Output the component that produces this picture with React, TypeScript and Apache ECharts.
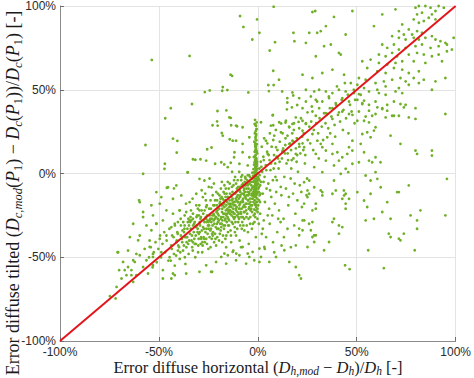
import React, { useEffect, useRef } from "react";
import * as echarts from "echarts";

const xTicks = [-100, -50, 0, 50, 100];
const identityLine = [[-100, -100], [100, 100]];

const lowerTail = [
  [-74.8,-73.2],[-71.9,-74.6],[-71.4,-67.7],[-70.1,-57.7],[-70.9,-47],[-68.9,-62.7],[-66.4,-60.7],[-65.6,-55.8],[-63.9,-57.7],[-63,-64.7],
  [-62.2,-52.8],[-61.4,-60.7],[-60.5,-39.9],[-60,-16],[-59.7,-48.8],[-58,-26],[-56.3,-51.8],[-55.5,-59.7],[-54.7,-43.8],[-53.8,-33.9],
  [-53,-49.8],[-51.3,-29.9],[-58,-0.2],[-35.4,0.8],[-29.5,-3.2],[-27,-4.2],[-45.4,-8.2],[-41.2,-7.1],[-51.3,-11.1],[-48.8,-14.1],
  [-42.9,-15.1],[-38.7,-13.1],[-31.1,-12.1],[-27.8,-14.1],[-59.7,-17.1],[-53.8,-19],[-49.6,-18],[-34.5,-17.1],[-31.1,-19],
  [-58,-23],[-53,-25],[-46.2,-22],[-42.9,-24],[-39.5,-22],[-36.2,-23],[-32.8,-24],[-29.5,-22],[-26.1,-20],
  [-63,-30],[-56.3,-31],[-51.3,-30],[-48,-28],[-43.7,-32],[-40.4,-29],[-37,-31],[-34.5,-28],[-29.5,-30],[-25.3,-28],
  [-64.7,-38],[-59.7,-37],[-54.7,-40],[-49.6,-39],[-46.2,-37],[-41.2,-41],[-36.2,-38],[-32.8,-41],[-28.6,-39],
  [-70.6,-47],[-65.6,-46],[-61.4,-48],[-57.2,-45],[-53,-48],[-48.8,-47],[-44.6,-50],[-40.4,-46],
  [-68.1,-52.8],[-63,-51.8],[-58,-55.8],[-53,-54.8],[-48,-57.7],[-42.9,-59.7],[-67.3,-57.7],[-63.9,-60.7]
];

const midBand = [
  [-44,-52],[-43.5,-45],[-42.6,-38],[-42,-55],[-41.3,-49],[-40.7,-35],[-40.2,-43],[-39.5,-51],[-39,-27],[-38.4,-39],
  [-37.8,-46],[-37.1,-33],[-36.6,-54],[-36,-41],[-35.4,-29],[-35,-48],[-34.3,-36],[-33.8,-22],[-33.2,-44],[-32.7,-31],
  [-32.1,-39],[-31.6,-50],[-31,-26],[-30.5,-35],[-30.1,-43],[-29.6,-19],[-29.2,-31],[-28.7,-38],[-28.1,-47],[-27.6,-24],
  [-27.2,-33],[-26.8,-41],[-26.3,-16],[-25.9,-29],[-25.4,-36],[-25,-45],[-24.6,-21],[-24.1,-27],[-23.7,-33],[-23.3,-39],
  [-22.8,-13],[-22.4,-24],[-22,-30],[-21.6,-36],[-21.1,-43],[-20.7,-19],[-20.3,-27],[-19.9,-33],
  [-38.9,-31],[-37.4,-43],[-35.7,-38],[-34.8,-31],[-33.5,-40],[-32.4,-35],[-31.3,-42],[-30.8,-31],[-29.9,-39],[-29,-27],
  [-28.3,-34],[-27.9,-43],[-27,-29],[-26.5,-35],[-26.1,-39],[-25.6,-25],[-25.2,-31],[-24.4,-38],[-24,-34],[-23.5,-29],
  [-23,-25],[-22.6,-35],[-22.1,-41],[-21.8,-27],[-21.3,-32],[-20.9,-23],[-20.5,-38],[-20.1,-29],
  [-42,-30],[-39.6,-22],[-37,-25],[-36.3,-18],[-33,-15],[-30.3,-21],[-28.4,-10],[-26.6,-12],[-24.8,-8],[-23.9,-16],[-22.2,-6],[-21,-11],
  [-39.2,-47],[-38.1,-34],[-36.9,-50],[-35.2,-42],[-34,-26],[-32.9,-46],[-31.9,-29],[-30.2,-47],[-29.4,-35],[-28.9,-42],
  [-27.4,-38],[-26.9,-22],[-25.7,-42],[-24.9,-29],[-23.9,-44],[-23.1,-36],[-22.3,-28],[-21.4,-39],[-20.6,-33],
  [-33.6,-28],[-31.4,-37],[-29.8,-25],[-28,-41],[-26.2,-27],[-24.3,-25],[-22.9,-31],[-21.9,-19],[-20.4,-22]
];

const bandExtra = [
  [-55,-50],[-54.1,-44],[-53.2,-56],[-52.6,-47],[-51.7,-41],[-51.1,-53],[-50.3,-45],[-49.4,-37],[-48.9,-50],[-48.2,-42],
  [-47.3,-35],[-46.8,-47],[-46.1,-40],[-45.2,-52],[-44.7,-33],[-43.8,-43],[-43.3,-37],[-42.4,-48],[-41.9,-31],[-41,-40],
  [-40.5,-36],[-39.8,-44],[-38.9,-37],[-38.2,-41],[-37.7,-29],[-36.8,-38],[-36.1,-44],[-35.6,-33],[-34.7,-40],[-34.2,-29],
  [-33.3,-37],[-32.8,-27],[-31.9,-42],[-31.2,-32],[-30.7,-25],[-29.8,-36],[-29.3,-29],[-28.4,-22],[-27.7,-32],[-27.2,-39],
  [-26.3,-26],[-25.8,-19],[-24.9,-33],[-24.2,-28],[-23.7,-21],[-22.8,-37],[-22.1,-25],[-21.6,-16],[-20.7,-30],[-20.2,-24],
  [-19.4,-13],[-18.7,-27],[-18,-21],[-17.3,-11],[-16.6,-24],[-15.9,-19],[-15.2,-14],[-14.5,-28],[-13.8,-18],[-13.1,-8],
  [-12.4,-21],[-11.7,-17],[-11,-6],[-10.3,-23],[-9.6,-15],[-8.9,-11],[-8.2,-21],[-7.5,-6],[-6.8,-13],[-6.1,-18],
  [-5.4,-4],[-4.7,-9],[-4,-15],[-3.3,-7],[-2.6,-13],[-1.9,-2],[-1.2,-9],[-0.5,-17],[0.2,-6],[0.9,-13],
  [-19.1,-17],[-18.3,-14],[-17.5,-26],[-16.9,-20],[-16.1,-16],[-15.5,-24],[-14.7,-18],[-14.1,-12],[-13.4,-20],[-12.7,-15],
  [-12.1,-24],[-11.4,-19],[-10.9,-11],[-10.2,-17],[-9.5,-21],[-8.8,-13],[-8.1,-7],[-7.4,-20],[-6.9,-9],[-6.3,-14],
  [-5.6,-18],[-5,-7],[-4.3,-12],[-3.7,-17],[-3,-9],[-2.4,-5],[-1.7,-14],[-1,-19],[-0.4,-11],[0.4,-3],
  [-17,-18],[-15,-22],[-13,-13],[-11,-22],[-9,-18],[-7,-10],[-5,-16],[-3,-12],[-1,-6],[-16.2,-9],
  [-14.2,-6],[-12,-4],[-10,-8],[-8.4,-4],[-6.4,-2],[-4.4,-1],[-2.8,0.5],[-18.2,-5],[-20.6,-16],[-22.5,-19],
  [-37.3,-35],[-35.1,-27],[-33.9,-33],[-32.2,-30],[-30.4,-33],[-28.8,-26],[-27.5,-28],[-26,-33],[-24.6,-31],[-23.2,-27],
  [-21.2,-26],[-19.7,-28],[-18.5,-32],[-17.8,-15],[-16.4,-27],[-15.8,-12],[-14.4,-22],[-13.2,-23],[-12.3,-17],[-11.5,-26],
  [-10.6,-14],[-9.8,-26],[-9.2,-10],[-8.5,-24],[-7.7,-16],[-7.1,-23],[-6.6,-7],[-5.8,-26],[-5.2,-11],[-4.6,-21],
  [-3.9,-5],[-3.5,-19],[-2.9,-23],[-2.2,-8],[-1.5,-24],[-0.8,-3],[-0.2,-21],[0.6,-8],[1.1,-17],[1.6,-5]
];

const core = [
  [-19.5,-21],[-19.2,-36],[-18.9,-15],[-18.6,-26],[-18.3,-30],[-18,-41],[-17.7,-19],[-17.4,-24],[-17.1,-33],[-16.8,-12],
  [-16.5,-28],[-16.2,-22],[-15.9,-37],[-15.6,-17],[-15.3,-26],[-15,-31],[-14.7,-9],[-14.4,-20],[-14.1,-24],[-13.8,-34],
  [-13.5,-14],[-13.2,-29],[-12.9,-18],[-12.6,-23],[-12.3,-7],[-12,-27],[-11.7,-32],[-11.4,-12],[-11.1,-21],[-10.8,-16],
  [-10.5,-25],[-10.2,-4],[-9.9,-29],[-9.6,-10],[-9.3,-19],[-9,-14],[-8.7,-23],[-8.4,-2],[-8.1,-33],[-7.8,-8],
  [-7.5,-17],[-7.2,-12],[-6.9,-27],[-6.6,-5],[-6.3,-20],[-6,-15],[-5.7,-9],[-5.4,-24],[-5.1,-1],[-4.8,-13],
  [-4.5,-18],[-4.2,-6],[-3.9,-30],[-3.6,-10],[-3.3,-21],[-3,-3],[-2.7,-15],[-2.4,-8],[-2.1,-25],[-1.8,-12],
  [-1.5,-18],[-1.2,-5],[-0.9,-22],[-0.6,-9],[-0.3,-15],[0,-2],
  [-19.8,-25],[-19,-30],[-18.4,-19],[-17.9,-28],[-17.2,-16],[-16.6,-31],[-16,-25],[-15.4,-21],[-14.9,-27],[-14.3,-16],
  [-13.9,-22],[-13.3,-25],[-12.8,-11],[-12.2,-19],[-11.8,-24],[-11.2,-15],[-10.7,-20],[-10.1,-13],[-9.7,-24],[-9.1,-8],
  [-8.6,-17],[-8,-12],[-7.6,-26],[-7,-19],[-6.5,-11],[-5.9,-22],[-5.3,-6],[-4.9,-16],[-4.4,-11],[-3.8,-26],
  [-3.4,-5],[-2.9,-19],[-2.3,-11],[-1.7,-29],[-1.1,-14],[-0.5,-7],[0.2,-19],[0.5,-11],[0.8,-4],[-1.4,-1],
  [-2.6,-3],[-4,-2],[-6.2,-3],[-7.9,-1],[-9.4,1],[-11.5,-2],[-13,1],[-15.2,-5],[-16.9,-7],[-18.7,-9],[-20.2,-12],
  [-16,-44],[-13.5,-41],[-11,-37],[-9.2,-40],[-7.3,-31],[-5,-35],[-3,-33],[-1,-38],[0.5,-30],[-12.4,-46],
  [-8.5,-44],[-4.6,-42],[2,-36],[1.2,-24],[3,-28],[-0.2,-27],
  [-19.6,-40],[-18.8,-34],[-17.6,-37],[-16.4,-39],[-15.1,-35],[-14.6,-31],[-13.6,-37],[-12.6,-30],[-11.6,-35],[-10.4,-33],
  [-9.5,-27],[-8.9,-31],[-7.9,-29],[-6.8,-34],[-5.6,-31],[-4.7,-27],[-3.7,-22],[-2.5,-30],[-1.3,-26],[-0.1,-23],
  [0.6,-16],[1.4,-12],[-19.3,-18],[-18.1,-23],[-17.3,-31],[-16.3,-14],[-15.7,-29],[-14.8,-23],[-14,-19],[-13.1,-16],
  [-12.4,-26],[-11.3,-29],[-10.6,-9],[-9.9,-17],[-9.2,-21],[-8.3,-26],[-7.4,-15],[-6.7,-23],[-6.1,-7],[-5.5,-13],
  [-4.3,-20],[-3.2,-13],[-2.2,-17],[-1.6,-9],[-0.8,-13],[0.3,-9],[0.9,-1]
];

const spike = [
  [-1.4,32],[-0.6,30.5],[-1.2,29],[-0.7,26.5],[-1.5,24],[-0.9,22.5],[-1.1,20.5],[-1.8,19],[-0.5,17.5],[-1.3,16],
  [-0.8,14.5],[-1.6,13],[-0.3,12],[-1.1,11],[-2,9.8],[-0.7,9],[-1.4,8],[-0.4,7],[-1,6],[-1.9,5.2],
  [-0.6,4.4],[-1.3,3.5],[-2.2,2.6],[-0.8,1.8],[-1.6,1],[-0.2,0.3],[-1.1,-0.6],[-2.4,-1.3],[-0.5,-2.2],[-1.7,-2.9],
  [-0.9,-3.8],[-2,-4.6],[-1.2,-5.5],[-0.4,-6.4],[-1.5,-7.3],[-2.6,-8.1],[-0.7,-9],[-1.9,-10],[-1.2,-11],[-0.3,-12],
  [-2.2,-13],[-1,-14],[-1.6,-16],[-0.6,-17],[-2.8,-15],[-1.4,-18.5],[-0.9,-20],[-1.8,-21.5],[-1.3,17.2],[-1,15.2],
  [-0.6,13.3],[-1.4,10.4],[-0.9,7.4],[-1.7,6.6],[-0.5,5.5],[-1.2,4],[-0.4,2.8],[-1.8,0.5],[-1,-1.8],[-0.2,-4.2],
  [-1.4,-6.8],[-2.1,-11.5],
  [-1.1,25.2],[-0.8,23.4],[-1.2,21.6],[-0.7,19.8],[-1.3,18.1],[-0.9,16.3],[-1.2,14],[-0.7,12.6],[-1.1,9.3],[-0.8,8.2],
  [-1.3,6.9],[-0.9,4.9],[-1.1,3.1],[-0.7,2.2],[-1.2,1.4],[-0.9,-0.1],[-1.3,-1],[-0.8,-2.6],[-1.1,-4.1],[-0.7,-5.1],
  [-1.3,-6],[-0.9,-7.9],[-1.1,-8.6],[-0.8,-10.4],[-1.3,-12.4],[-1,-13.3]
];

const nearOrigin = [
  [0.8,3],[1.5,7],[2.2,1],[2.8,10],[3.4,-2],[4,5],[4.7,13],[5.3,-6],[5.9,8],[6.4,2],
  [7,16],[7.6,-4],[8.2,11],[8.8,6],[9.3,-11],[9.9,14],[10.5,3],[11.1,19],[11.6,-8],[12.2,9],
  [12.8,15],[13.4,-2],[14,21],[14.5,6],[15.1,12],[15.7,-14],[16.3,18],[16.9,3],[17.4,24],[18,9],
  [18.6,-6],[19.2,15],[19.7,21],[20.3,1],[20.9,27],[21.5,12],[22,-11],[22.6,18],[23.2,24],[23.8,6],
  [24.3,30],[24.9,-3],
  [1.2,-7],[2.5,-12],[3.6,-17],[4.4,-9],[5.7,-21],[6.8,-14],[7.3,-25],[8.6,-18],[9.6,-4],[10.7,-22],
  [11.9,-13],[13,-27],[14.2,-9],[15.4,-19],[16.6,-3],[17.8,-12],[19,-24],[20,-16],[21.2,-7],[22.3,-20],
  [23.5,-28],[24.6,-13],
  [2,16],[3.2,21],[4.8,18],[6.1,24],[7.8,20],[9.1,26],[10.2,9],[12.5,24],[13.7,12],[15.8,28],
  [17.1,8],[18.3,30],[19.9,11],[21.8,33],[23,14],[25.2,20],
  [2.5,-33],[4.2,-38],[6,-30],[7.7,-41],[9.8,-35],[11.5,-29],[13.2,-38],[15,-33],[16.7,-44],[18.4,-31],
  [3.5,-45],[8.3,-47],[12,-43],[5,-25],[10.3,-27],
  [1.8,4],[3,8],[4.3,2],[5.5,11],[6.7,6],[8,3],[9.5,10],[11,7],[12.4,13],[13.9,17],
  [15.3,8],[16.8,14],[18.1,19],[19.6,7],[21,16],[22.4,22],[24,11],[2.9,-5],[6.2,-10],[8.9,-2]
];

const upperBand = [
  [25.1,36.5],[29.3,34.5],[35.2,35.5],[37.7,32.6],[41,36.5],[46.1,35.5],[50.3,31.5],[27.6,23.6],[30.1,19.6],[32.6,15.7],
  [35.1,21.6],[37.7,17.7],[40.2,12.7],[42.7,9.7],[46.1,15.7],[47.8,19.6],[29.3,11.7],[34.4,7.7],[38.5,4.8],[44.4,2.8],
  [47.8,5.8],[28.5,3.8],[32.6,0.8],[41.9,-0.2],[31.8,17.7],[34.4,13.7],[37.7,11.7],[41,7.7],[45.2,11.7],[47.8,13.7],
  [26,28],[27,31],[28.3,26],[29.5,30],[30.5,24],[31.2,33],[32.3,28],[33.5,36],[34.2,30],[35.6,27],
  [36.4,39],[37.2,34],[38.8,29],[39.5,41],[40.5,35],[41.6,31],[42.4,44],[43.3,38],[44.6,33],[45.5,47],
  [46.6,41],[47.4,37],[48.5,50],[49.2,44],[26.5,18],[28,14],[30.8,9],[33,20],[36.6,24],[39.1,22],
  [43,26],[45.8,24],[48.9,30],[27.3,40],[30,43],[35.9,46],[40,52],[44,54],
  [20.9,45],[24.3,43],[26.8,46],[29.3,44],[32.6,43],[36,45],[39.4,42],[42.7,45],[46.1,43],[22.6,39],
  [27.6,37],[31,39],[34.4,36],[37.7,39],[42.7,37],[47.8,35],[24.3,50],[28.5,49],[31,50],[34.4,49],
  [37.7,48],[41,50],[44.4,49],[48.6,48],[22.6,59],[27.6,57],[32.6,60],[29.3,70],[37.7,62],[43.6,59],
  [24.3,78],[33.5,76],[36.9,77],[41,72],[41.9,71],[26,84],[30,84],[31.8,85],[44.4,83],[34.4,88],
  [27.6,96.4],[29,97],[38.5,93.5],[47.8,97],[47,54]
];

const upperRight = [
  [80.5,95],[83,96],[78.8,92],[81.4,90],[83.9,91],[86.4,93],[88,95],[89.8,92],[79.7,99],[81.4,100],
  [84.7,100],[87.3,99],[89.8,97],[91.4,100],[94,99],[62.9,95],[69.6,98],[58.7,88],[73,89],[76.3,86],
  [71.3,85],[73.8,83],[78,83],[80.5,85],[83,84],[67.9,82],[71.3,81],[74.7,80],[78.8,81],[81.4,80],
  [84.7,81],[88,82],[89.8,80],[92.3,79],[95.6,77],[99,81],[62.9,77],[65.4,75],[68.8,77],[71.3,74],
  [74.7,75],[79.7,76],[83,77],[87.3,75],[91.4,76],[94.8,78],[61.2,71],[64.6,70],[67.9,72],[70.4,70],
  [76.3,71],[80.5,72],[83.9,71],[88,70],[91.4,71],[95.6,73],[98.1,74],[52.8,67],[57,68],[61.2,66],
  [65.4,65],[69.6,66],[73,67],[78.8,67],[84.7,66],[93.1,67],[55.3,63],[60.4,61],[64.6,60],[68.8,63],
  [73,62],[76.3,60],[81.4,61],[51.1,57],[54.5,56],[59.5,54],[63.7,55],[67.9,56],[72.1,57],[74.7,55],
  [78.8,57],[83.9,56],[89.8,55],[94.8,57],[50.3,53],[53.7,51],[60.4,50],[64.6,52],[71.3,51],[76.3,53],
  [81.4,54],[52,47],[56.2,49],[61.2,48],[64.6,47],[69.6,49],[73,48],[88,50],[50.3,44],[52.8,42],
  [56.2,41],[59.5,43],[62.9,39],[65.4,41],[68.8,43],[74.7,41],[79.7,39],[51.1,37],[54.5,34],[59.5,35.5],
  [64.6,33.5],[71.3,34.5],[76.3,33.5],
  [51.1,47.4],[53.7,43.5],[56.2,37.5],[57.8,34.5],[59.5,27.6],[55.3,24.6],[57,21.6],[52.8,41.5],[60.4,39.5],[62.9,38.5],
  [65.4,37.5],[67.9,34.5],[72.1,41.5],[73.8,39.5],[79.7,32.6],[94.8,35.5],[79.7,13.7],[80.5,11.7],[88,13.7],[88,10.7],
  [67.1,22.6],[72.1,17.7],[59.5,9.7],[62,6.7],[53.7,31.5],[56.2,30.5],[58.7,25.6],[52.8,23.6],[52,17.7],[68.8,34.5],
  [53.7,12.7],[51.1,6.7],[56.2,7.7],[57.8,6.7]
];

const lowerRight = [
  [54.5,-1.2],[59.5,0.8],[57,-4.2],[60.4,-3.2],[62.1,-8.2],[71.3,-11.1],[76.3,-7.1],[95.6,-3.2],[65.4,-17.1],[53.7,-16.1],
  [55.3,-20],[62.9,-23],[67.1,-27],[58.7,-27],[54.5,-28],[77.2,-25],[82.2,-22],[80.5,-28],[80.5,-33],[94.8,-25],
  [66.2,-35.9],[67.1,-37.9],[73.8,-35.9],[71.3,-38.9],[50.3,-11.1],[57,-12.1],[70.4,-11.1],[72.1,-39.9],[79.3,-45.8],[55.8,-45.8],
  [44.1,-54.8],[46.4,-57.1],[63.7,-56.5],
  [23.4,-5.2],[26,-4.2],[25.1,-10.1],[25.1,-14.1],[28.5,-8.2],[31.8,-10.1],[32.6,-13.1],[38.5,-4.2],[39.4,-10.1],[43.5,-10.1],
  [42.7,-15.1],[44.4,-12.1],[45.7,0.8],[46.1,-15.1],[23.4,-18],[27.6,-22],[29.3,-21],[22.6,-28],[27.6,-29],[38.5,-27],
  [41,-31],[42.7,-32],[37.7,-29],[28.5,-36.9],[41,-35.9],[20.9,-32.9],[25.9,-30],[26.8,-33.9],[27.6,-37.9],[29.3,-36.9],
  [28.5,-40.9],[33.5,-45.8],[36,-40.9],[44.4,-21],[44.4,-18],[43.6,-13.1],[37.7,-12.1],[32.6,-11.1],[25.9,-12.1],[29.3,-18]
];

const upperLeft = [
  [-53.6,67.8],[-56.8,17],[-34.5,70.2],[-9,94],[-0.4,92],[-7.3,87.5],[0.8,84],[-2.8,80],[8,99.6],[18,84],
  [18.5,79],[8.7,78.4],[6,73.4],[7.8,61.3],[-13.8,59],[-13,58.3],[10.7,56],[5.3,52.8],[8,52.8],[-17.7,51.6],
  [-26.8,48.6],[-24.3,49.6],[-18,49.4],[-15.4,49.8],[-4.8,48.4],[5.6,49.2],[12.3,49],[17.5,48.4],[17.9,46.6],[14.9,45],
  [14.9,42.4],[19.9,40.9],[17.2,39.5],[14.7,38.3],[-44,39],[-33.3,41.5],[-20.4,37.3],[-15.9,37.7],[-46.8,33],[7.6,35],
  [-22.9,28.8],[-20.6,31.1],[-13.7,33.2],[-13.5,28.8],[-10.5,28.2],[-18.2,24.2],[-42.9,20.8],[-40.7,19.5],[-14.2,20.4],[-11,19.6],
  [-25.6,14.5],[-23.4,15.5],[-41,12.5],[-32.8,8.5],[-31.6,8.2],[-29,8.5],[-21.6,5.8],[-17,5.4],[-13.7,6.4],[-12,9.7],
  [-47,5.8],[-47.2,2.8],[-35.5,0.6],[-24.4,-3],[-46,-8.5],[-42.4,-8.9],[-23.4,-8.3],
  [-20.3,28.6],[-14.4,33.5],[-11,28.6],[-7.7,27.6],[-17.7,22.6],[-12.7,19.6],[-7.7,17.7],[-4.3,21.6],[-11.8,12.7],
  [-7.7,12.7],[-4.3,9.7],[-26.1,7.7],[-18.5,6.7],[-15.2,3.8],[-9.3,5.8],[-5.1,4.8],[1.6,30.6],[4.1,19.6],[6.6,28.6],
  [10.8,30.6],[14.2,31.5],[17.5,29.6],[19.2,33.5],[8.3,22.6],[11.7,24.6],[15,22.6],[17.5,19.6],[20.9,17.7],[22.6,25.6],
  [24.3,29.6],[5,11.7],[9.2,15.7],[12.6,13.7],[15.9,17.7],[19.2,11.7],[23.4,15.7],
  [-1.6,29.6],[-0.9,28.4],[-0.6,26.4],[7.5,34.7],[7.8,28.8],[11.8,29.9],[14,30.4],[15.9,27.6],[18.2,26],[20.6,30.8],[22.6,31.5]
];

const lowerScatter = [
  [-43.7,-62.7],[-48,-62.7],[-42,-60.7],[-36.2,-59.7],[-29.5,-58.7],[-23.6,-58.7],[-26.1,-54.8],[-23.1,-58.7],[-18.5,-49.8],[-15.2,-48.8],
  [-10.9,-47.8],[-16,-53.8],[-21.1,-52.8],[-11,-51.8],[-9.3,-48.8],[-5.1,-47.8],[-2.6,-46.8],[0.8,-44.8],[3.3,-43.9],[-7.7,-43.9],
  [-12.7,-46.8],[-16.9,-47.8],[-5.9,-53.8],[-4.3,-49.8],[-1.8,-51.8],[0.8,-52.8],[1.6,-49.8],[5.8,-52.8],[9.2,-49.8],[15.9,-52.8],
  [20.9,-60.7],[13.4,-45.8],[19.2,-42.9],[25.1,-43.9],[20.9,-36.9],[22.6,-33.9],[19.2,-55.8],[21.8,-62.7]
];

const allPoints = [
  ...lowerTail, ...midBand, ...bandExtra, ...core, ...spike, ...nearOrigin,
  ...upperBand, ...upperRight, ...lowerRight, ...upperLeft, ...lowerScatter
];

const serif = "'Liberation Serif', 'Times New Roman', serif";
const sans = "'Liberation Sans', Arial, sans-serif";

const xRich = {
  n: { fontFamily: serif, fontSize: 16.5, lineHeight: 20, fill: "#1a1a1a" },
  i: { fontFamily: serif, fontSize: 16.5, lineHeight: 20, fontStyle: "italic", fill: "#1a1a1a" },
  s: { fontFamily: serif, fontSize: 11.5, lineHeight: 11, fontStyle: "italic", verticalAlign: "bottom", fill: "#1a1a1a" },
  r: { fontFamily: serif, fontSize: 11.5, lineHeight: 11, verticalAlign: "bottom", fill: "#1a1a1a" }
};
const yRich = {
  n: { fontFamily: serif, fontSize: 18, lineHeight: 22, fill: "#1a1a1a" },
  i: { fontFamily: serif, fontSize: 18, lineHeight: 22, fontStyle: "italic", fill: "#1a1a1a" },
  s: { fontFamily: serif, fontSize: 12.5, lineHeight: 12, fontStyle: "italic", verticalAlign: "bottom", fill: "#1a1a1a" },
  r: { fontFamily: serif, fontSize: 12.5, lineHeight: 12, verticalAlign: "bottom", fill: "#1a1a1a" }
};

const xTitle =
  "{n|Error diffuse horizontal (}{i|D}{s|h,mod}{n| − }{i|D}{s|h}{n|)/}{i|D}{s|h}{n| [-]}";
const yTitle =
  "{n|Error diffuse tilted (}{i|D}{s|c,mod}{n|(}{i|P}{r|1}{n|) − }{i|D}{s|c}{n|(}{i|P}{r|1}{n|))/}{i|D}{s|c}{n|(}{i|P}{r|1}{n|) [-]}";

export default function App() {
  const ref = useRef<HTMLDivElement>(null);
  useEffect(() => {
    if (!ref.current) return;
    const chart = echarts.init(ref.current, null, { renderer: "svg" });
    const axisCommon = {
      type: "value",
      min: xTicks[0],
      max: xTicks[xTicks.length - 1],
      interval: 50,
      axisLine: { show: true, onZero: false, lineStyle: { color: "#8c8c8c", width: 1 } },
      axisTick: { show: true, inside: true, length: 4, lineStyle: { color: "#6e6e6e" } },
      splitLine: { show: true, lineStyle: { color: "#e3e3e3", width: 1 } },
    };
    chart.setOption({
      animation: false,
      backgroundColor: "#ffffff",
      grid: { left: 60, right: 17, top: 5, bottom: 37 },
      xAxis: {
        ...axisCommon,
        axisLabel: {
          formatter: (v: number) => v + "%",
          fontFamily: sans,
          fontSize: 12,
          color: "#2b2b2b",
          margin: 5,
        },
      },
      yAxis: {
        ...axisCommon,
        axisLabel: {
          formatter: (v: number) => v + "%",
          fontFamily: sans,
          fontSize: 12,
          color: "#2b2b2b",
          margin: 4,
        },
      },
      graphic: [
        {
          type: "text",
          x: 258,
          y: 367,
          style: {
            text: xTitle,
            rich: xRich,
            align: "center",
            verticalAlign: "middle",
            textAlign: "center",
            textVerticalAlign: "middle",
          },
        },
        {
          type: "text",
          x: 13,
          y: 193,
          rotation: Math.PI / 2,
          style: {
            text: yTitle,
            rich: yRich,
            align: "center",
            verticalAlign: "middle",
            textAlign: "center",
            textVerticalAlign: "middle",
          },
        },
      ],
      series: [
        {
          type: "scatter",
          data: allPoints,
          symbol: "circle",
          symbolSize: 2.8,
          itemStyle: { color: "#70b028", opacity: 1 },
          silent: true,
        },
        {
          type: "line",
          data: identityLine,
          symbol: "none",
          lineStyle: { color: "#e3151b", width: 2 },
          silent: true,
          z: 5,
        },
      ],
    });
    return () => chart.dispose();
  }, []);
  return (
    <div
      ref={ref}
      style={{ position: "absolute", left: 0, top: 0, width: 474, height: 378 }}
    />
  );
}
